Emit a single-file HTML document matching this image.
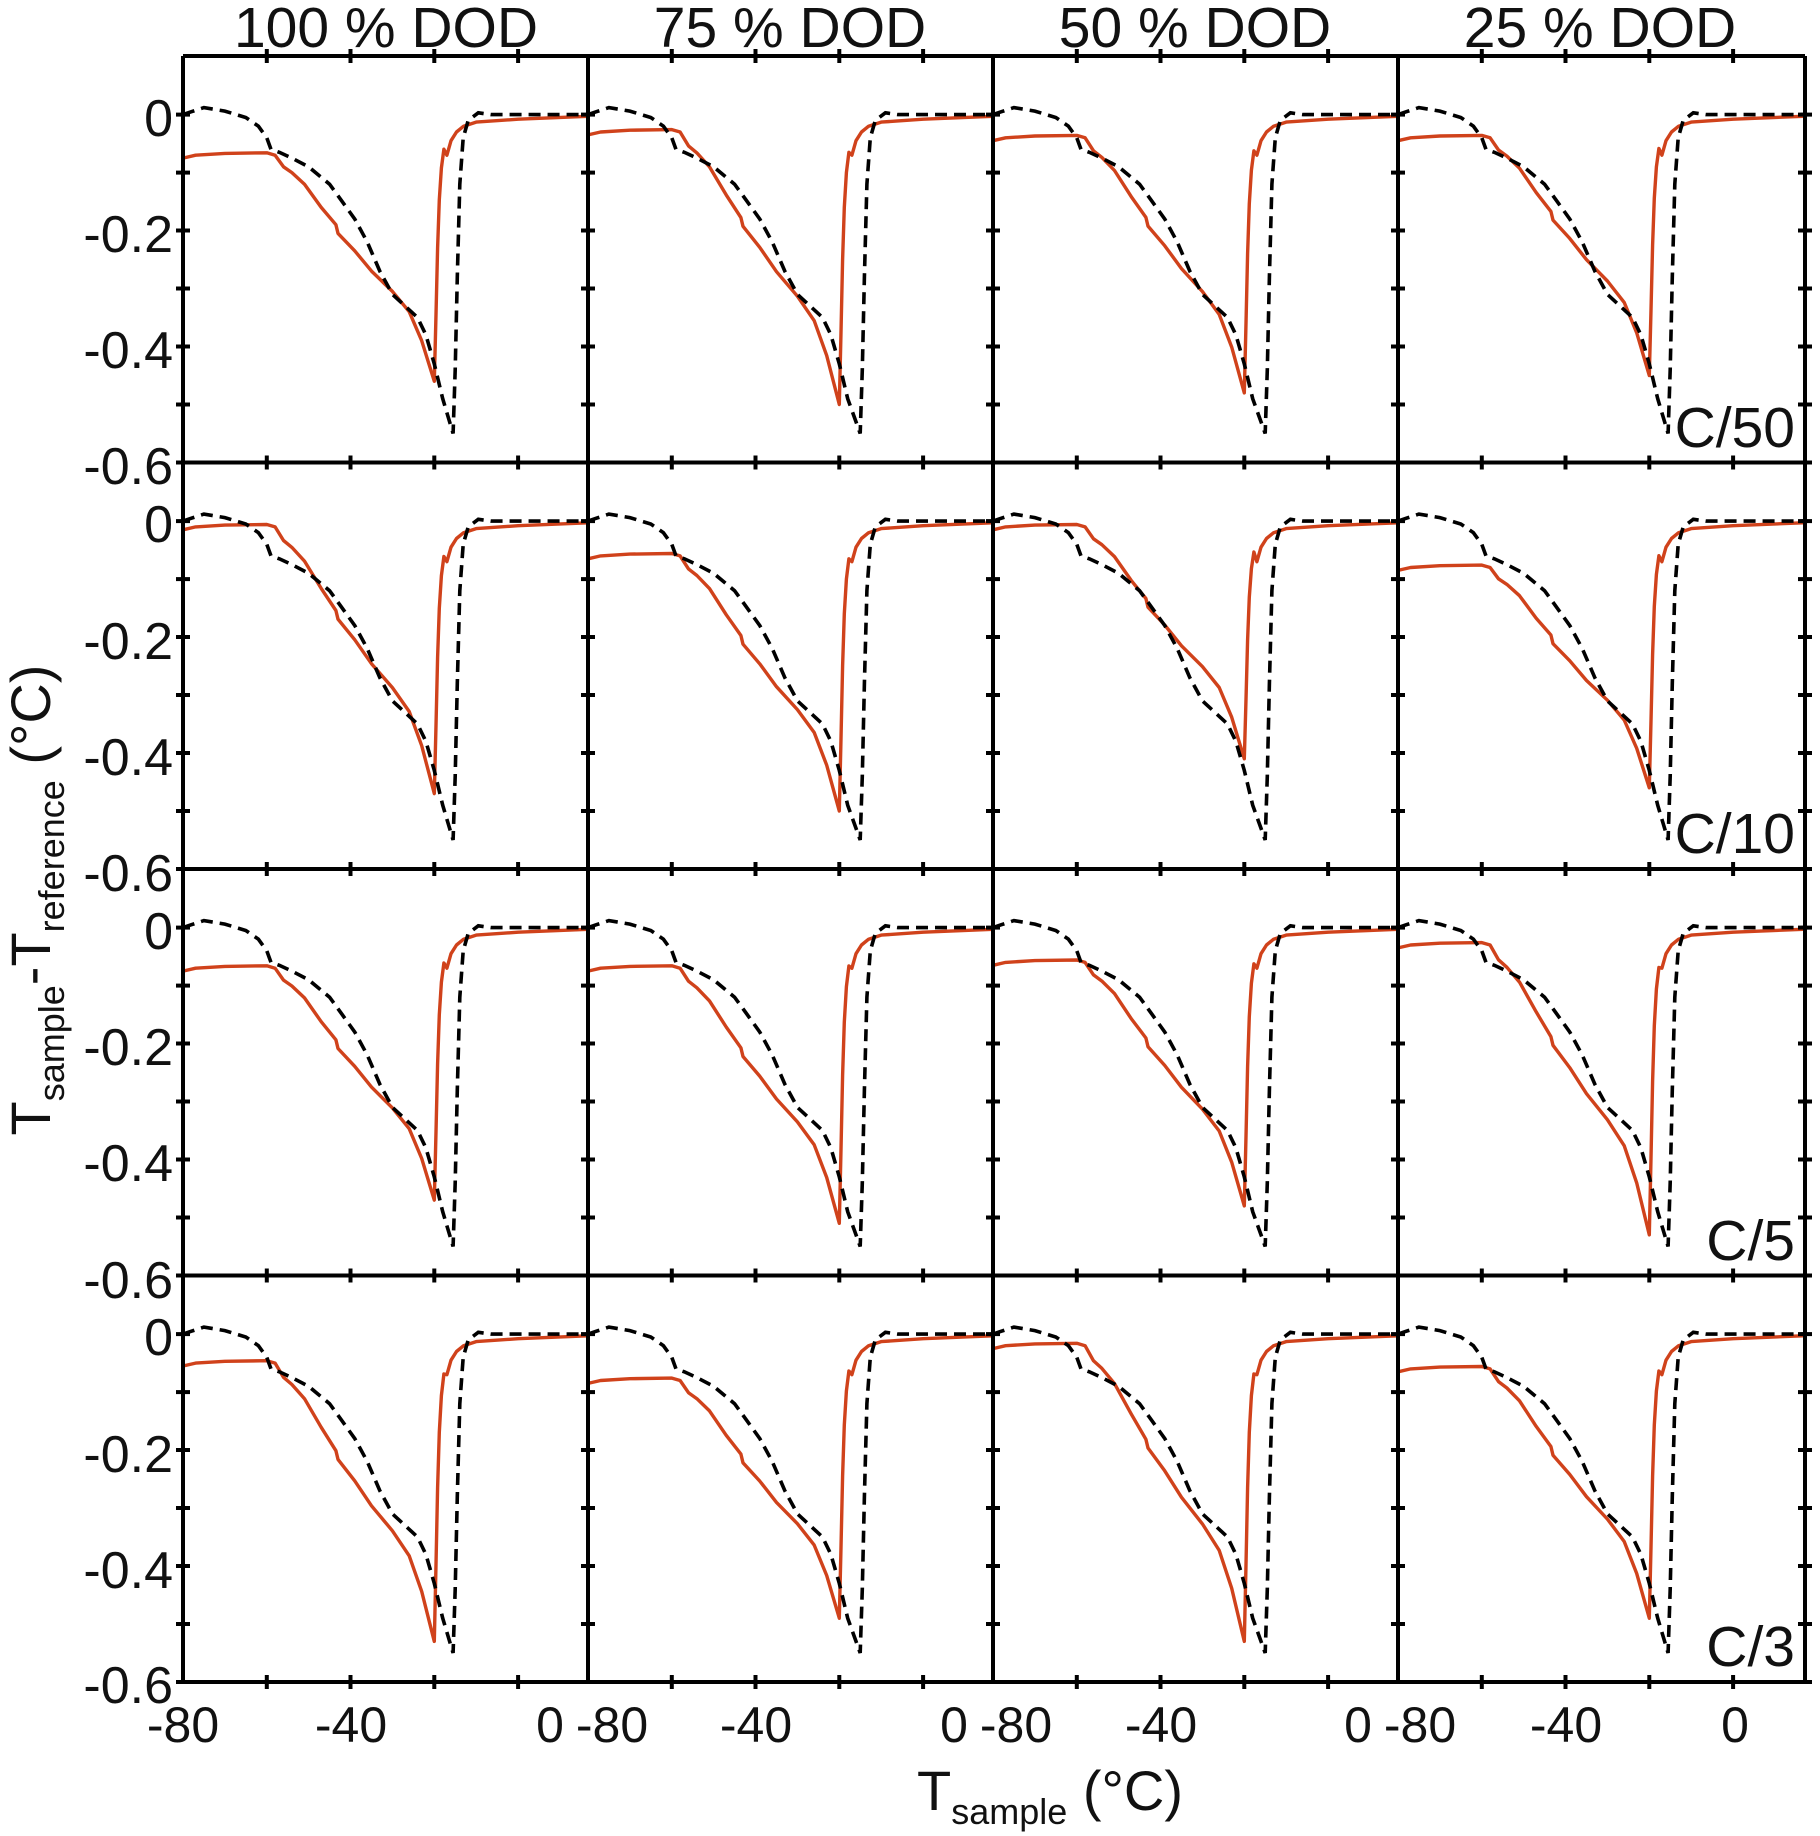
<!DOCTYPE html>
<html><head><meta charset="utf-8"><style>
html,body{margin:0;padding:0;background:#fff}
svg{display:block}
text{font-family:"Liberation Sans",Arial,sans-serif;fill:#111}
</style></head><body>
<svg id="s" width="1820" height="1836" viewBox="0 0 1820 1836" xmlns="http://www.w3.org/2000/svg">
<g font-size="57" text-anchor="middle">
<text x="386" y="47">100 % DOD</text>
<text x="790" y="47">75 % DOD</text>
<text x="1195" y="47">50 % DOD</text>
<text x="1600" y="47">25 % DOD</text>
</g>
<g font-size="52" text-anchor="end">
<text x="173" y="136">0</text><text x="173" y="252">-0.2</text><text x="173" y="368">-0.4</text><text x="173" y="484">-0.6</text>
<text x="173" y="542">0</text><text x="173" y="659">-0.2</text><text x="173" y="775">-0.4</text><text x="173" y="891">-0.6</text>
<text x="173" y="949">0</text><text x="173" y="1065">-0.2</text><text x="173" y="1181">-0.4</text><text x="173" y="1298">-0.6</text>
<text x="173" y="1355">0</text><text x="173" y="1472">-0.2</text><text x="173" y="1588">-0.4</text><text x="173" y="1703">-0.6</text>
</g>
<g font-size="57" text-anchor="end">
<text x="1795" y="447">C/50</text>
<text x="1795" y="853">C/10</text>
<text x="1795" y="1260">C/5</text>
<text x="1795" y="1666">C/3</text>
</g>
<g font-size="50" text-anchor="middle">
<text x="183" y="1742">-80</text><text x="351" y="1742">-40</text><text x="550" y="1742">0</text>
<text x="612" y="1742">-80</text><text x="756" y="1742">-40</text><text x="954" y="1742">0</text>
<text x="1016" y="1742">-80</text><text x="1161" y="1742">-40</text><text x="1358" y="1742">0</text>
<text x="1420" y="1742">-80</text><text x="1566" y="1742">-40</text><text x="1735" y="1742">0</text>
</g>
<text x="1050" y="1810" font-size="56" text-anchor="middle">T<tspan font-size="36" dy="14">sample</tspan><tspan dy="-14"> (°C)</tspan></text>
<text transform="translate(50,900) rotate(-90)" font-size="56" text-anchor="middle">T<tspan font-size="36" dy="14">sample</tspan><tspan dy="-14">-T</tspan><tspan font-size="36" dy="14">reference</tspan><tspan dy="-14"> (°C)</tspan></text>
<g id="plots"></g>
<g id="axes" stroke="#000" stroke-width="4" fill="none"></g>
</svg>
<script>
var cols=[183,588,993,1398,1805], rows=[56,462.5,869,1275.5,1682];
var sx=(cols[1]-cols[0])/96.7, sy=(rows[1]-rows[0])/70.1;
var red=[[7,46],[3,50],[4,48],[4,45],[1,47],[6,50],[1,41],[8,46],[7,47],[7,51],[6,48],[3,53],[5,53],[8,49],[2,53],[6,49]];
var bxs=[64.5,65,65,64.5];
var rtab=[[22,7],[24,9],[26,10],[29,12],[33,16],[37,20.5],[41,23.5],[45,27],[50,30.5],[54,34],[57,39],[60,46]];
function path(pts,x0,y0){return pts.map(function(p,i){return (i?'L':'M')+(x0+p[0]*sx).toFixed(1)+' '+(y0+(p[1]+10.1)*sy).toFixed(1);}).join(' ');}
var out='';
for(var r=0;r<4;r++)for(var c=0;c<4;c++){
 var x0=cols[c],y0=rows[r],p=red[r*4+c][0],d=red[r*4+c][1],xm=60;
 var pts=[[0,p+0.5],[3,p],[10,p-0.3],[20,p-0.4]];
 rtab.forEach(function(q){var v=p+(q[1]-7)*(d-p)/39; if(q[0]==37){pts.push([36.5,v-1.5]);} pts.push([q[0],v]);});
 pts.push([60.4,d*0.75],[60.8,d*0.5],[61.2,d*0.32],[61.7,d*0.2],[62.3,d*0.13],[63,7],[64,4.5],[65.3,3],[67,2],[70,1.3],[80,0.8],[96.7,0.3]);
 var xb=bxs[c],D=55;
 var bp=[[0,0],[2,-0.5],[5,-1.2],[10,-0.6],[15,0.5],[18,2],[20,4],[21,6],[23,6.5],[26,7.5],[30,9],[35,12],[38,15],[41,18],[44,22],[47,27],[50,31],[53,33],[56,35],[58,38],[60,43],[62,49],[xb,D],[xb+0.5,44],[xb+1,28],[xb+1.6,12],[xb+2.4,4],[xb+3.6,1],[xb+6,-0.3],[xb+9,0],[96.7,0]];
 out+='<path d="'+path(pts,x0,y0)+'" stroke="#d0421b" stroke-width="3.4" fill="none" stroke-linejoin="round"/>';
 out+='<path d="'+path(bp,x0,y0)+'" stroke="#000" stroke-width="3.6" fill="none" stroke-dasharray="12 7"/>';
}
document.getElementById('plots').innerHTML=out;
var a='';
for(var i=0;i<5;i++){a+='<line x1="'+cols[i]+'" y1="56" x2="'+cols[i]+'" y2="1682"/>';a+='<line x1="183" y1="'+rows[i]+'" x2="1805" y2="'+rows[i]+'"/>';}
for(var c=0;c<4;c++)for(var k=1;k<5;k++){var x=cols[c]+k*20*sx;for(var r=0;r<5;r++)a+='<line x1="'+x.toFixed(1)+'" y1="'+(rows[r]-7)+'" x2="'+x.toFixed(1)+'" y2="'+(rows[r]+7)+'"/>';}
for(var r=0;r<4;r++)for(var k=0;k<7;k++){var y=rows[r]+(k*10+10.1)*sy;for(var c=0;c<5;c++)a+='<line x1="'+(cols[c]-7)+'" y1="'+y.toFixed(1)+'" x2="'+(cols[c]+7)+'" y2="'+y.toFixed(1)+'"/>';}
document.getElementById('axes').innerHTML=a;
</script>
</body></html>
